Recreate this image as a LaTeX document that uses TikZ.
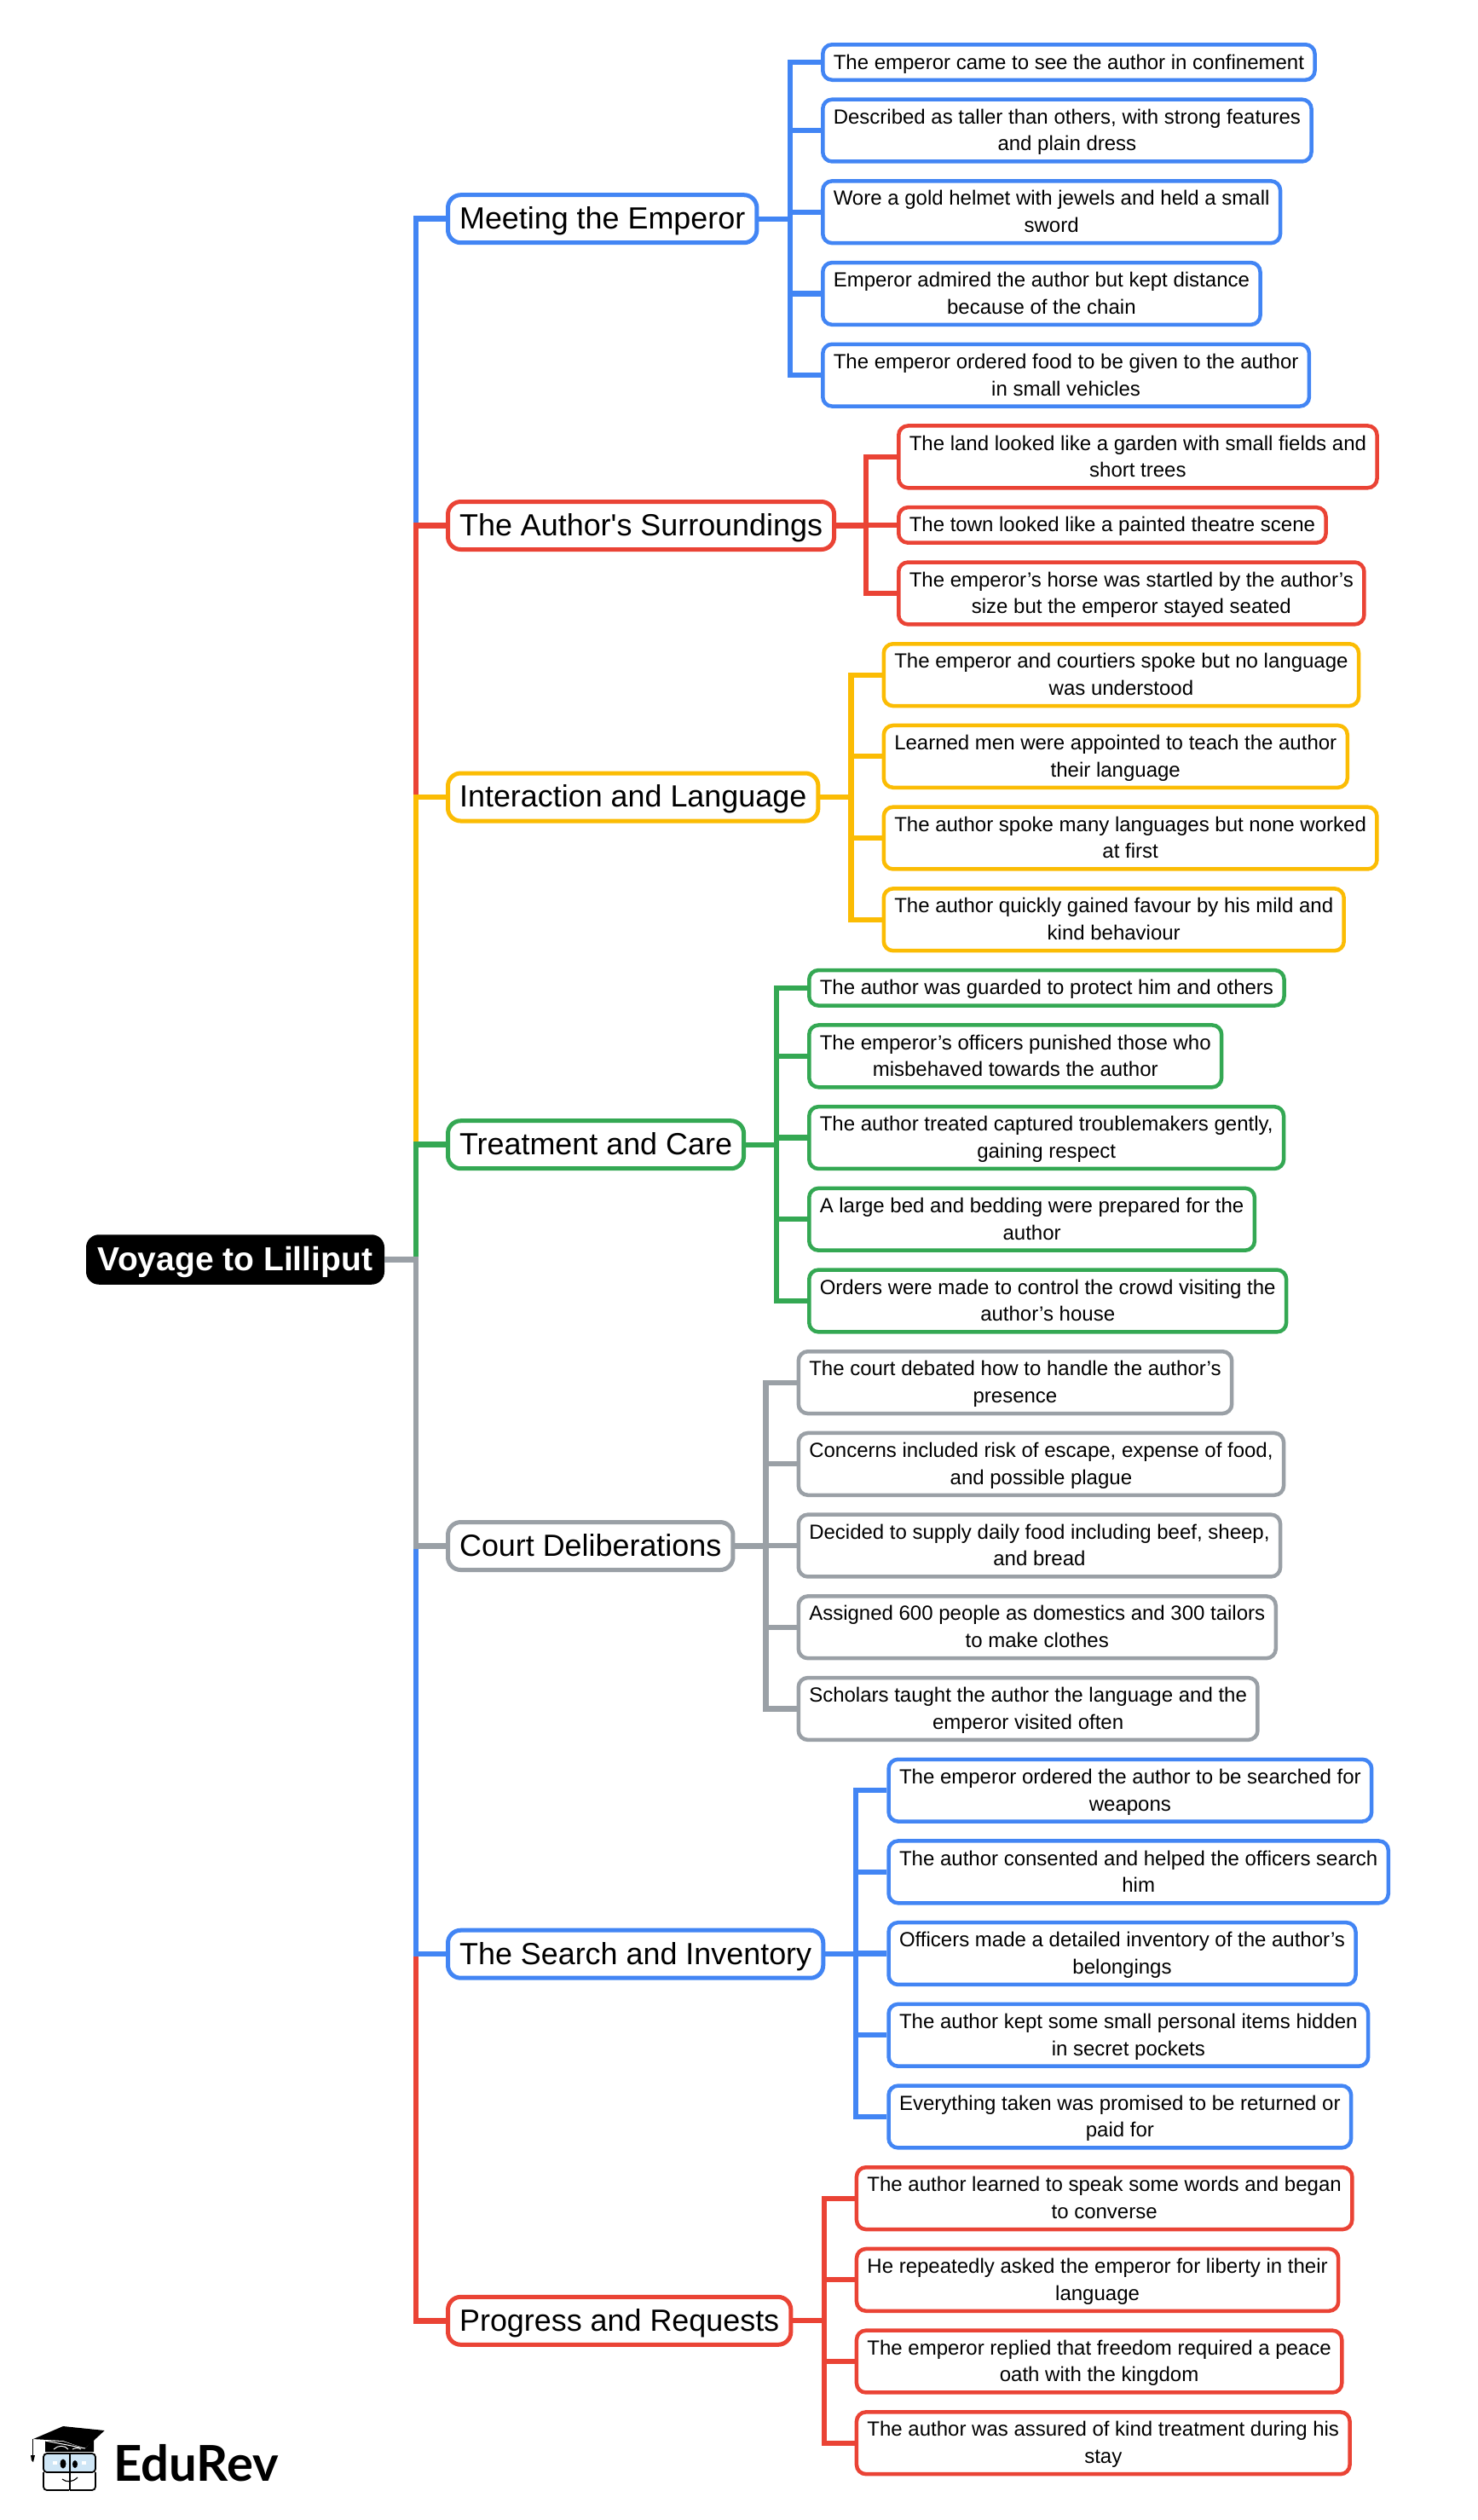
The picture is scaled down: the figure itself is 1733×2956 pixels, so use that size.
\documentclass[tikz,border=0pt]{standalone}
\usepackage{fontspec}
\setmainfont{Liberation Sans}
\newfontfamily\logofont{Lato}
\usetikzlibrary{positioning,calc}

\definecolor{mapblue}{HTML}{4285F4}
\definecolor{mapred}{HTML}{EA4335}
\definecolor{mapyellow}{HTML}{FBBC04}
\definecolor{mapgreen}{HTML}{34A853}
\definecolor{mapgrey}{HTML}{9AA0A6}

\tikzset{
  rootnode/.style={rectangle, rounded corners=15pt, fill=black, text=white, inner xsep=0pt, inner ysep=0pt, minimum width=350pt, minimum height=58.5pt, text height=33pt, text depth=7pt, font=\fontsize{39}{46}\selectfont\bfseries},
  branch/.style={rectangle, rounded corners=15pt, draw=#1, fill=white, line width=5pt, inner xsep=13.6pt, inner ysep=0pt, minimum height=56pt, text height=30pt, text depth=6.4pt, anchor=west, font=\fontsize{35.9}{44}\selectfont},
  leaf/.style={rectangle, rounded corners=11pt, draw=#1, fill=white, line width=4.5pt, inner xsep=12.5pt, inner ysep=0pt, minimum height=72.8pt, align=center, text height=55.55pt, text depth=7.85pt, font=\fontsize{24}{31.7}\selectfont},
  oneline/.style={minimum height=41.5pt, text height=23.85pt},
  nextleaf/.style={leaf=#1, anchor=north west},
  link/.style={draw=#1, line width=6.5pt},
  sublink/.style={draw=#1, line width=6.2pt},
}

\begin{document}
\begin{tikzpicture}[x=1pt, y=-1pt, node distance=18.4pt]
\useasboundingbox (0,0) rectangle (1733,2956);

\node[rootnode] (root) at (276,1477.5) {Voyage to Lilliput};
\coordinate (trunk) at (488,1477.5);

\node[branch=mapblue] (b1) at (523,256.7) {Meeting the Emperor};
\node[branch=mapred] (b2) at (523,616.5) {The Author\textquotesingle s Surroundings};
\node[branch=mapyellow] (b3) at (523,935) {Interaction and Language};
\node[branch=mapgreen] (b4) at (523,1342.7) {Treatment and Care};
\node[branch=mapgrey] (b5) at (523,1813.5) {Court Deliberations};
\node[branch=mapblue] (b6) at (523,2292.2) {The Search and Inventory};
\node[branch=mapred] (b7) at (523,2722.3) {Progress and Requests};

\coordinate (s1) at (927,256.7);
\coordinate (s2) at (1016,616.5);
\coordinate (s3) at (998.5,935);
\coordinate (s4) at (911,1342.7);
\coordinate (s5) at (898.5,1813.5);
\coordinate (s6) at (1004.3,2292.2);
\coordinate (s7) at (966.7,2722.3);

% Meeting the Emperor
\node[nextleaf=mapblue, oneline] (c11) at (963,50) {The emperor came to see the author in confinement};
\node[nextleaf=mapblue, below=of c11.south west, anchor=north west] (c12) {Described as taller than others, with strong features\\and plain dress};
\node[nextleaf=mapblue, below=of c12.south west, anchor=north west] (c13) {Wore a gold helmet with jewels and held a small\\sword};
\node[nextleaf=mapblue, below=of c13.south west, anchor=north west] (c14) {Emperor admired the author but kept distance\\because of the chain};
\node[nextleaf=mapblue, below=of c14.south west, anchor=north west] (c15) {The emperor ordered food to be given to the author\\in small vehicles};

% The Author's Surroundings
\node[nextleaf=mapred] (c21) at ([shift={(36,18.4)}] s2 |- c15.south) {The land looked like a garden with small fields and\\short trees};
\node[nextleaf=mapred, oneline, below=of c21.south west, anchor=north west] (c22) {The town looked like a painted theatre scene};
\node[nextleaf=mapred, below=of c22.south west, anchor=north west] (c23) {The emperor’s horse was startled by the author’s\\size but the emperor stayed seated};

% Interaction and Language
\node[nextleaf=mapyellow] (c31) at ([shift={(36,18.4)}] s3 |- c23.south) {The emperor and courtiers spoke but no language\\was understood};
\node[nextleaf=mapyellow, below=of c31.south west, anchor=north west] (c32) {Learned men were appointed to teach the author\\their language};
\node[nextleaf=mapyellow, below=of c32.south west, anchor=north west] (c33) {The author spoke many languages but none worked\\at first};
\node[nextleaf=mapyellow, below=of c33.south west, anchor=north west] (c34) {The author quickly gained favour by his mild and\\kind behaviour};

% Treatment and Care
\node[nextleaf=mapgreen, oneline] (c41) at ([shift={(36,18.4)}] s4 |- c34.south) {The author was guarded to protect him and others};
\node[nextleaf=mapgreen, below=of c41.south west, anchor=north west] (c42) {The emperor’s officers punished those who\\misbehaved towards the author};
\node[nextleaf=mapgreen, below=of c42.south west, anchor=north west] (c43) {The author treated captured troublemakers gently,\\gaining respect};
\node[nextleaf=mapgreen, below=of c43.south west, anchor=north west] (c44) {A large bed and bedding were prepared for the\\author};
\node[nextleaf=mapgreen, below=of c44.south west, anchor=north west] (c45) {Orders were made to control the crowd visiting the\\author’s house};

% Court Deliberations
\node[nextleaf=mapgrey] (c51) at ([shift={(36,18.4)}] s5 |- c45.south) {The court debated how to handle the author’s\\presence};
\node[nextleaf=mapgrey, below=of c51.south west, anchor=north west] (c52) {Concerns included risk of escape, expense of food,\\and possible plague};
\node[nextleaf=mapgrey, below=of c52.south west, anchor=north west] (c53) {Decided to supply daily food including beef, sheep,\\and bread};
\node[nextleaf=mapgrey, below=of c53.south west, anchor=north west] (c54) {Assigned 600 people as domestics and 300 tailors\\to make clothes};
\node[nextleaf=mapgrey, below=of c54.south west, anchor=north west] (c55) {Scholars taught the author the language and the\\emperor visited often};

% The Search and Inventory
\node[nextleaf=mapblue] (c61) at ([shift={(36,18.4)}] s6 |- c55.south) {The emperor ordered the author to be searched for\\weapons};
\node[nextleaf=mapblue, below=of c61.south west, anchor=north west] (c62) {The author consented and helped the officers search\\him};
\node[nextleaf=mapblue, below=of c62.south west, anchor=north west] (c63) {Officers made a detailed inventory of the author’s\\belongings};
\node[nextleaf=mapblue, below=of c63.south west, anchor=north west] (c64) {The author kept some small personal items hidden\\in secret pockets};
\node[nextleaf=mapblue, below=of c64.south west, anchor=north west] (c65) {Everything taken was promised to be returned or\\paid for};

% Progress and Requests
\node[nextleaf=mapred] (c71) at ([shift={(36,18.4)}] s7 |- c65.south) {The author learned to speak some words and began\\to converse};
\node[nextleaf=mapred, below=of c71.south west, anchor=north west] (c72) {He repeatedly asked the emperor for liberty in their\\language};
\node[nextleaf=mapred, below=of c72.south west, anchor=north west] (c73) {The emperor replied that freedom required a peace\\oath with the kingdom};
\node[nextleaf=mapred, below=of c73.south west, anchor=north west] (c74) {The author was assured of kind treatment during his\\stay};

% later colours lie over earlier ones on the trunk
\foreach \gr/\col in {1/mapblue,2/mapred,3/mapyellow,4/mapgreen,7/mapred,6/mapblue,5/mapgrey}
  \draw[link=\col] (root.east) -- (trunk) |- (b\gr.west);

\foreach \gr/\col/\n in {1/mapblue/5,2/mapred/3,3/mapyellow/4,4/mapgreen/5,5/mapgrey/5,6/mapblue/5,7/mapred/4}
  \foreach \k in {1,...,\n}
    \draw[sublink=\col] (b\gr.east) -- (s\gr) |- (c\gr\k.west);

% logo
\fill (39,2861) -- (74,2846) -- (122.7,2851) -- (100,2872) -- (74,2863) -- cycle;
\fill (53,2863) -- (53,2876) -- (110,2876) -- (110,2862) -- (100,2872) -- (74,2864) -- cycle;
\draw[white, line width=1pt] (53,2863) -- (100,2872);
\draw[white, line width=1pt] (63,2873) .. controls (68,2868) and (76,2868) .. (80,2873);
\draw[white, line width=1pt] (85,2873) .. controls (88,2871) and (92,2871) .. (95,2873);
\draw[line width=1pt] (38.5,2861) -- (38.5,2880);
\fill (36,2880) -- (41,2880) -- (39,2888) -- (37,2886) -- cycle;
\draw[fill={rgb,255:red,207;green,230;blue,246}, line width=1.8pt, rounded corners=4pt] (51,2878) rectangle (112,2900);
\draw[line width=1.8pt, rounded corners=4pt] (51,2900) -- (51,2921) -- (81,2921);
\draw[line width=1.8pt, rounded corners=4pt] (82,2921) -- (112,2921) -- (112,2900);
\draw[line width=2pt] (81.5,2877) -- (81.5,2921);
\fill (74,2890) ellipse [x radius=3.5, y radius=5.5];
\fill (88,2890.5) ellipse [x radius=3, y radius=4.5];
\fill[white] (62,2887) rectangle (67,2891);
\fill[white] (96,2887) rectangle (101,2891);
\draw[line width=1.2pt] (73,2908) .. controls (78,2912) and (85,2912) .. (91,2906);
\node[anchor=base west, inner sep=0pt, font=\fontsize{58}{62}\logofont\bfseries] (edurev) at (133,2910) {EduRev};
\end{tikzpicture}
\end{document}
